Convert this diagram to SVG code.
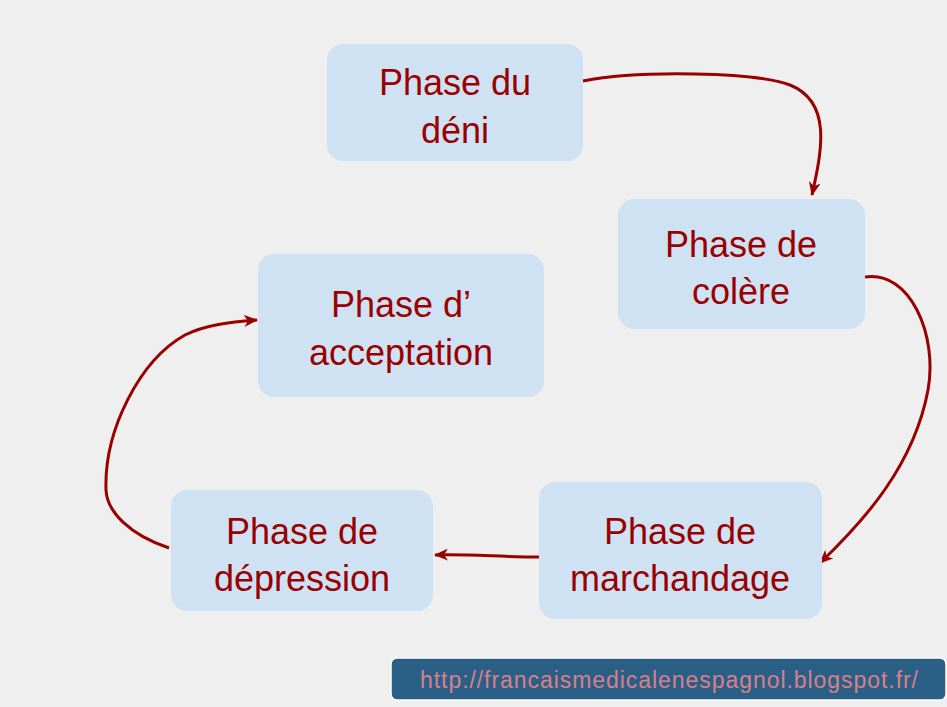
<svg xmlns="http://www.w3.org/2000/svg" width="947" height="707" viewBox="0 0 947 707">
<style>
.box{fill:#cfe2f3;}
.lbl{font-family:"Liberation Sans",Arial,sans-serif;font-size:36px;fill:#990000;text-anchor:middle;}
.edge{fill:none;stroke:#990000;stroke-width:3;}
.url{font-family:"Liberation Sans",Arial,sans-serif;font-size:23px;fill:#d97f8c;text-anchor:middle;}
</style>
<defs>
<marker id="arr" viewBox="0 0 14 12" refX="13" refY="6" markerWidth="14" markerHeight="12" markerUnits="userSpaceOnUse" orient="auto">
<path d="M0,0 L14,6 L0,12 L4,6 Z" fill="#990000"/>
</marker>
</defs>
<rect width="947" height="707" fill="#efefef"/>
<g id="connectors">
<path class="edge" marker-end="url(#arr)" d="M583,81 C640,70 755,72 790,85 C832,102 822,150 812,195"/>
<path class="edge" marker-end="url(#arr)" d="M865,277 C910,270 938,335 928,390 C914,465 865,520 820,563"/>
<path class="edge" marker-end="url(#arr)" d="M539,557 C500,557 470,554 435,555"/>
<path class="edge" marker-end="url(#arr)" d="M169,548 C130,535 107,512 106,490 C104,430 140,360 185,335 C205,325 230,322 257,320"/>
</g>
<g id="deni">
<rect class="box" x="327" y="44" width="256" height="117" rx="16"/>
<text class="lbl" x="455" y="95">Phase du</text>
<text class="lbl" x="455" y="143">déni</text>
</g>
<g id="colere">
<rect class="box" x="618" y="199" width="247" height="130" rx="16"/>
<text class="lbl" x="741" y="257">Phase de</text>
<text class="lbl" x="741" y="304">colère</text>
</g>
<g id="acceptation">
<rect class="box" x="258" y="254" width="286" height="143" rx="16"/>
<text class="lbl" x="401" y="317">Phase d’</text>
<text class="lbl" x="401" y="365">acceptation</text>
</g>
<g id="marchandage">
<rect class="box" x="539" y="482" width="283" height="137" rx="16"/>
<text class="lbl" x="680" y="544">Phase de</text>
<text class="lbl" x="680" y="591">marchandage</text>
</g>
<g id="depression">
<rect class="box" x="171" y="490" width="262" height="121" rx="16"/>
<text class="lbl" x="302" y="544">Phase de</text>
<text class="lbl" x="302" y="591">dépression</text>
</g>
<g id="url">
<rect x="391" y="658" width="555" height="42" rx="6" fill="#2a5f86" stroke="#ffffff" stroke-width="1.5"/>
<text class="url" x="669" y="688" textLength="498" lengthAdjust="spacing">http://francaismedicalenespagnol.blogspot.fr/</text>
</g>
</svg>
